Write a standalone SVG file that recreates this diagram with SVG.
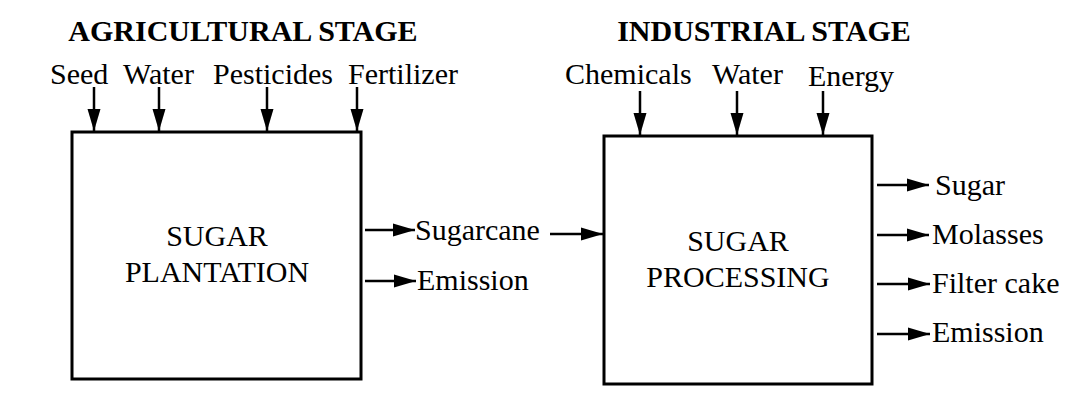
<svg xmlns="http://www.w3.org/2000/svg" width="1072" height="409" viewBox="0 0 1072 409">
<defs>
<marker id="ah" markerUnits="userSpaceOnUse" markerWidth="22" markerHeight="14" refX="22" refY="7" orient="auto">
<path d="M0,0.5 L22,7 L0,13.5 z" fill="#000"/>
</marker>
</defs>
<rect width="1072" height="409" fill="#fff"/>
<text x="243" y="41" text-anchor="middle" font-family="Liberation Serif" font-size="30" font-weight="bold">AGRICULTURAL STAGE</text>
<text x="764" y="41" text-anchor="middle" font-family="Liberation Serif" font-size="30" font-weight="bold">INDUSTRIAL STAGE</text>
<text x="50" y="84" font-family="Liberation Serif" font-size="30">Seed</text>
<text x="123" y="84" font-family="Liberation Serif" font-size="30">Water</text>
<text x="213" y="84" font-family="Liberation Serif" font-size="30">Pesticides</text>
<text x="348" y="84" font-family="Liberation Serif" font-size="30">Fertilizer</text>
<text x="565" y="84" font-family="Liberation Serif" font-size="30">Chemicals</text>
<text x="712" y="84" font-family="Liberation Serif" font-size="30">Water</text>
<text x="808" y="86" font-family="Liberation Serif" font-size="30">Energy</text>
<text x="415" y="240" font-family="Liberation Serif" font-size="30">Sugarcane</text>
<text x="417" y="290" font-family="Liberation Serif" font-size="30">Emission</text>
<text x="935" y="195" font-family="Liberation Serif" font-size="30">Sugar</text>
<text x="932" y="244" font-family="Liberation Serif" font-size="30">Molasses</text>
<text x="932" y="293" font-family="Liberation Serif" font-size="30">Filter cake</text>
<text x="932" y="342" font-family="Liberation Serif" font-size="30">Emission</text>
<g id="plantation">
<rect x="72" y="132" width="289" height="247" fill="#fff" stroke="#000" stroke-width="3"/>
<text x="217" y="246" text-anchor="middle" font-family="Liberation Serif" font-size="30">SUGAR</text>
<text x="217" y="282" text-anchor="middle" font-family="Liberation Serif" font-size="30">PLANTATION</text>
</g>
<g id="processing">
<rect x="604" y="136" width="268" height="248" fill="#fff" stroke="#000" stroke-width="3"/>
<text x="738" y="251" text-anchor="middle" font-family="Liberation Serif" font-size="30">SUGAR</text>
<text x="738" y="287" text-anchor="middle" font-family="Liberation Serif" font-size="30">PROCESSING</text>
</g>
<g id="connectors" stroke="#000" stroke-width="2.5" fill="none" marker-end="url(#ah)">
<line x1="94" y1="87" x2="94" y2="131"/>
<line x1="159" y1="87" x2="159" y2="131"/>
<line x1="267" y1="87" x2="267" y2="131"/>
<line x1="357" y1="87" x2="357" y2="131"/>
<line x1="640" y1="91" x2="640" y2="135"/>
<line x1="737" y1="91" x2="737" y2="135"/>
<line x1="823" y1="91" x2="823" y2="135"/>
<line x1="365" y1="230" x2="415" y2="230"/>
<line x1="365" y1="281" x2="416" y2="281"/>
<line x1="550" y1="234" x2="603" y2="234"/>
<line x1="877" y1="185" x2="929" y2="185"/>
<line x1="877" y1="235" x2="929" y2="235"/>
<line x1="877" y1="284" x2="930" y2="284"/>
<line x1="877" y1="334" x2="930" y2="334"/>
</g>
</svg>
